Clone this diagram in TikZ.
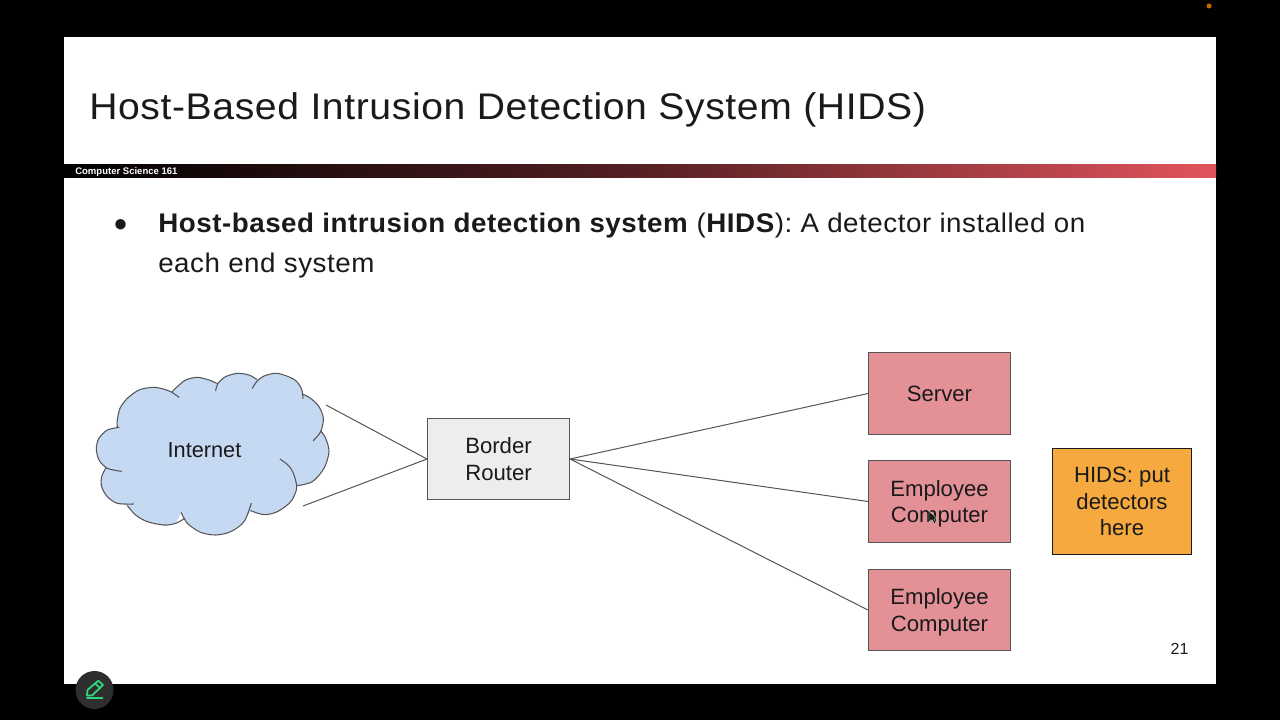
\documentclass[tikz,border=0pt]{standalone}
\usepackage{fontspec}
\setmainfont{Liberation Sans}
\newfontfamily\widefont[LetterSpace=1.65,FakeStretch=1.055]{Liberation Sans}
\newfontfamily\bodyfont[LetterSpace=2,FakeStretch=1.03]{Liberation Sans}
\definecolor{ink}{HTML}{1A1A1A}
\definecolor{edgegray}{HTML}{555555}
\definecolor{cloudblue}{HTML}{C6D9F2}
\definecolor{routergray}{HTML}{EDEDED}
\definecolor{hostred}{HTML}{E39097}
\definecolor{hidsorange}{HTML}{F5A93E}
\definecolor{barred}{HTML}{E2545C}
\definecolor{pengreen}{HTML}{2FD67B}
\tikzset{
  x=0.75pt,y=-0.75pt,
  boxnode/.style={draw=edgegray,line width=0.75pt,minimum width=106.5pt,minimum height=61pt,align=center,inner sep=0pt,text=ink,font=\fontsize{16.6}{20}\selectfont},
  link/.style={draw=edgegray,line width=0.75pt},
  cloudline/.style={draw=edgegray,line width=0.8pt,line cap=round},
  bodytext/.style={anchor=base west,inner sep=0pt,text=ink,font=\bodyfont\fontsize{20.2}{24}\selectfont}
}
\begin{document}
\begin{tikzpicture}
\useasboundingbox (0,0) rectangle (1280,720);
\fill[black] (0,0) rectangle (1280,720);
\fill[white] (64,37) rectangle (1216,684);
\shade[left color=black,right color=barred,middle color=black!50!barred!75!black] (64,165) rectangle (1216,178);
\fill[orange!80!black] (1209,6) circle (2.5);
\node[anchor=base west,inner sep=0pt,text=ink,font=\widefont\fontsize{27.8}{32}\selectfont] (title) at (89,120) {Host-Based Intrusion Detection System (HIDS)};
\node[anchor=west,inner sep=0pt,text=white,font=\fontsize{7.15}{8}\bfseries\selectfont] (course) at (75,172) {Computer Science 161};
\node[inner sep=0pt,text=ink,font=\fontsize{18}{20}\selectfont] (bullet) at (120.5,226) {●};
\node[bodytext] (line1) at (158,232.5) {\textbf{Host-based intrusion detection system} (\textbf{HIDS}): A detector installed on};
\node[bodytext] (line2) at (158,272.5) {each end system};
% cloud
\begin{scope}[shift={(64,340)},x=0.25pt,y=-0.25pt]
\fill[cloudblue] (160,262) -- (160,240) -- (168,205) -- (190,175) -- (225,150) -- (265,142) -- (290,145) -- (325,155)
 -- (340,140) -- (365,120) -- (400,112) -- (435,120) -- (458,130)
 -- (485,110) -- (520,100) -- (555,105) -- (578,118)
 -- (600,108) -- (640,100) -- (690,118) -- (712,145) -- (715,162)
 -- (740,175) -- (765,200) -- (778,235) -- (770,272)
 -- (785,295) -- (795,335) -- (780,385) -- (745,425) -- (700,437)
 -- (698,445) -- (680,485) -- (640,515) -- (600,524) -- (560,512)
 -- (540,545) -- (500,575) -- (455,585) -- (410,577) -- (370,550) -- (352,518)
 -- (335,550) -- (300,555) -- (250,545) -- (215,525) -- (190,497)
 -- (160,490) -- (130,470) -- (113,440) -- (113,410) -- (125,385)
 -- (105,360) -- (97,325) -- (105,295) -- (130,270) -- cycle;
\draw[cloudline] plot[smooth] coordinates {(345,172) (320,155) (290,145) (265,142) (225,150) (190,175) (168,205) (160,240) (160,262)};
\draw[cloudline] plot[smooth] coordinates {(165,262) (130,270) (105,295) (97,325) (105,360) (130,385) (172,394)};
\draw[cloudline] plot[smooth] coordinates {(125,385) (113,410) (113,440) (130,470) (160,490) (208,492)};
\draw[cloudline] plot[smooth] coordinates {(190,497) (215,525) (250,545) (300,555) (335,550) (362,535)};
\draw[cloudline] plot[smooth] coordinates {(352,518) (370,550) (410,577) (455,585) (500,575) (540,545) (562,490)};
\draw[cloudline] plot[smooth] coordinates {(560,512) (600,524) (640,515) (680,485) (698,445) (690,405) (675,378) (648,357)};
\draw[cloudline] plot[smooth] coordinates {(700,437) (745,425) (780,385) (795,335) (785,295) (770,272)};
\draw[cloudline] plot[smooth] coordinates {(748,302) (770,275) (778,235) (765,200) (740,175) (715,162)};
\draw[cloudline] plot[smooth] coordinates {(717,175) (712,145) (690,118) (640,100) (600,108) (578,125) (565,145)};
\draw[cloudline] plot[smooth] coordinates {(578,118) (555,105) (520,100) (485,110) (462,130) (455,152)};
\draw[cloudline] plot[smooth] coordinates {(458,130) (435,120) (400,112) (365,120) (340,140) (325,155)};
\end{scope}
\node[inner sep=0pt,text=ink,font=\fontsize{16.3}{20}\selectfont] (internet) at (204.5,450.5) {Internet};
% nodes
\node[boxnode,fill=routergray] (router) at (498.5,459) {Border\\Router};
\node[boxnode,fill=hostred] (server) at (939.5,393.5) {Server};
\node[boxnode,fill=hostred] (emp1) at (939.5,501.5) {Employee\\\smash{Computer}};
\node[boxnode,fill=hostred] (emp2) at (939.5,610) {Employee\\\smash{Computer}};
\node[boxnode,fill=hidsorange,minimum width=104pt,minimum height=79pt,draw=ink] (hids) at (1122,501.5) {HIDS: put\\detectors\\here};
\coordinate (cloudA) at (326,405);
\coordinate (cloudB) at (303,506);
\draw[link] (cloudA) -- (router.west);
\draw[link] (cloudB) -- (router.west);
\draw[link] (router.east) -- (server.west);
\draw[link] (router.east) -- (emp1.west);
\draw[link] (router.east) -- (emp2.west);
\node[inner sep=0pt,text=ink,font=\fontsize{12}{14}\selectfont] (page) at (1179.5,648.5) {21};
% cursor
\fill[ink,draw=white!80!green,line width=0.2pt] (929,511) -- (929,522) -- (932,519.5) -- (934.5,524) -- (936,523) -- (934,519) -- (937,518.5) -- cycle;
% pen button
\fill[black!82] (94.5,690) circle (19);
\begin{scope}[draw=pengreen,line width=1.3pt,line join=round,line cap=round]
\draw (87,695.5) -- (87.5,690) -- (98.3,680.7) -- (103,685) -- (92,695.5) -- cycle;
\draw (95,683.5) -- (100,688);
\draw (87,698.3) -- (102.5,698.3);
\end{scope}
\end{tikzpicture}
\end{document}
